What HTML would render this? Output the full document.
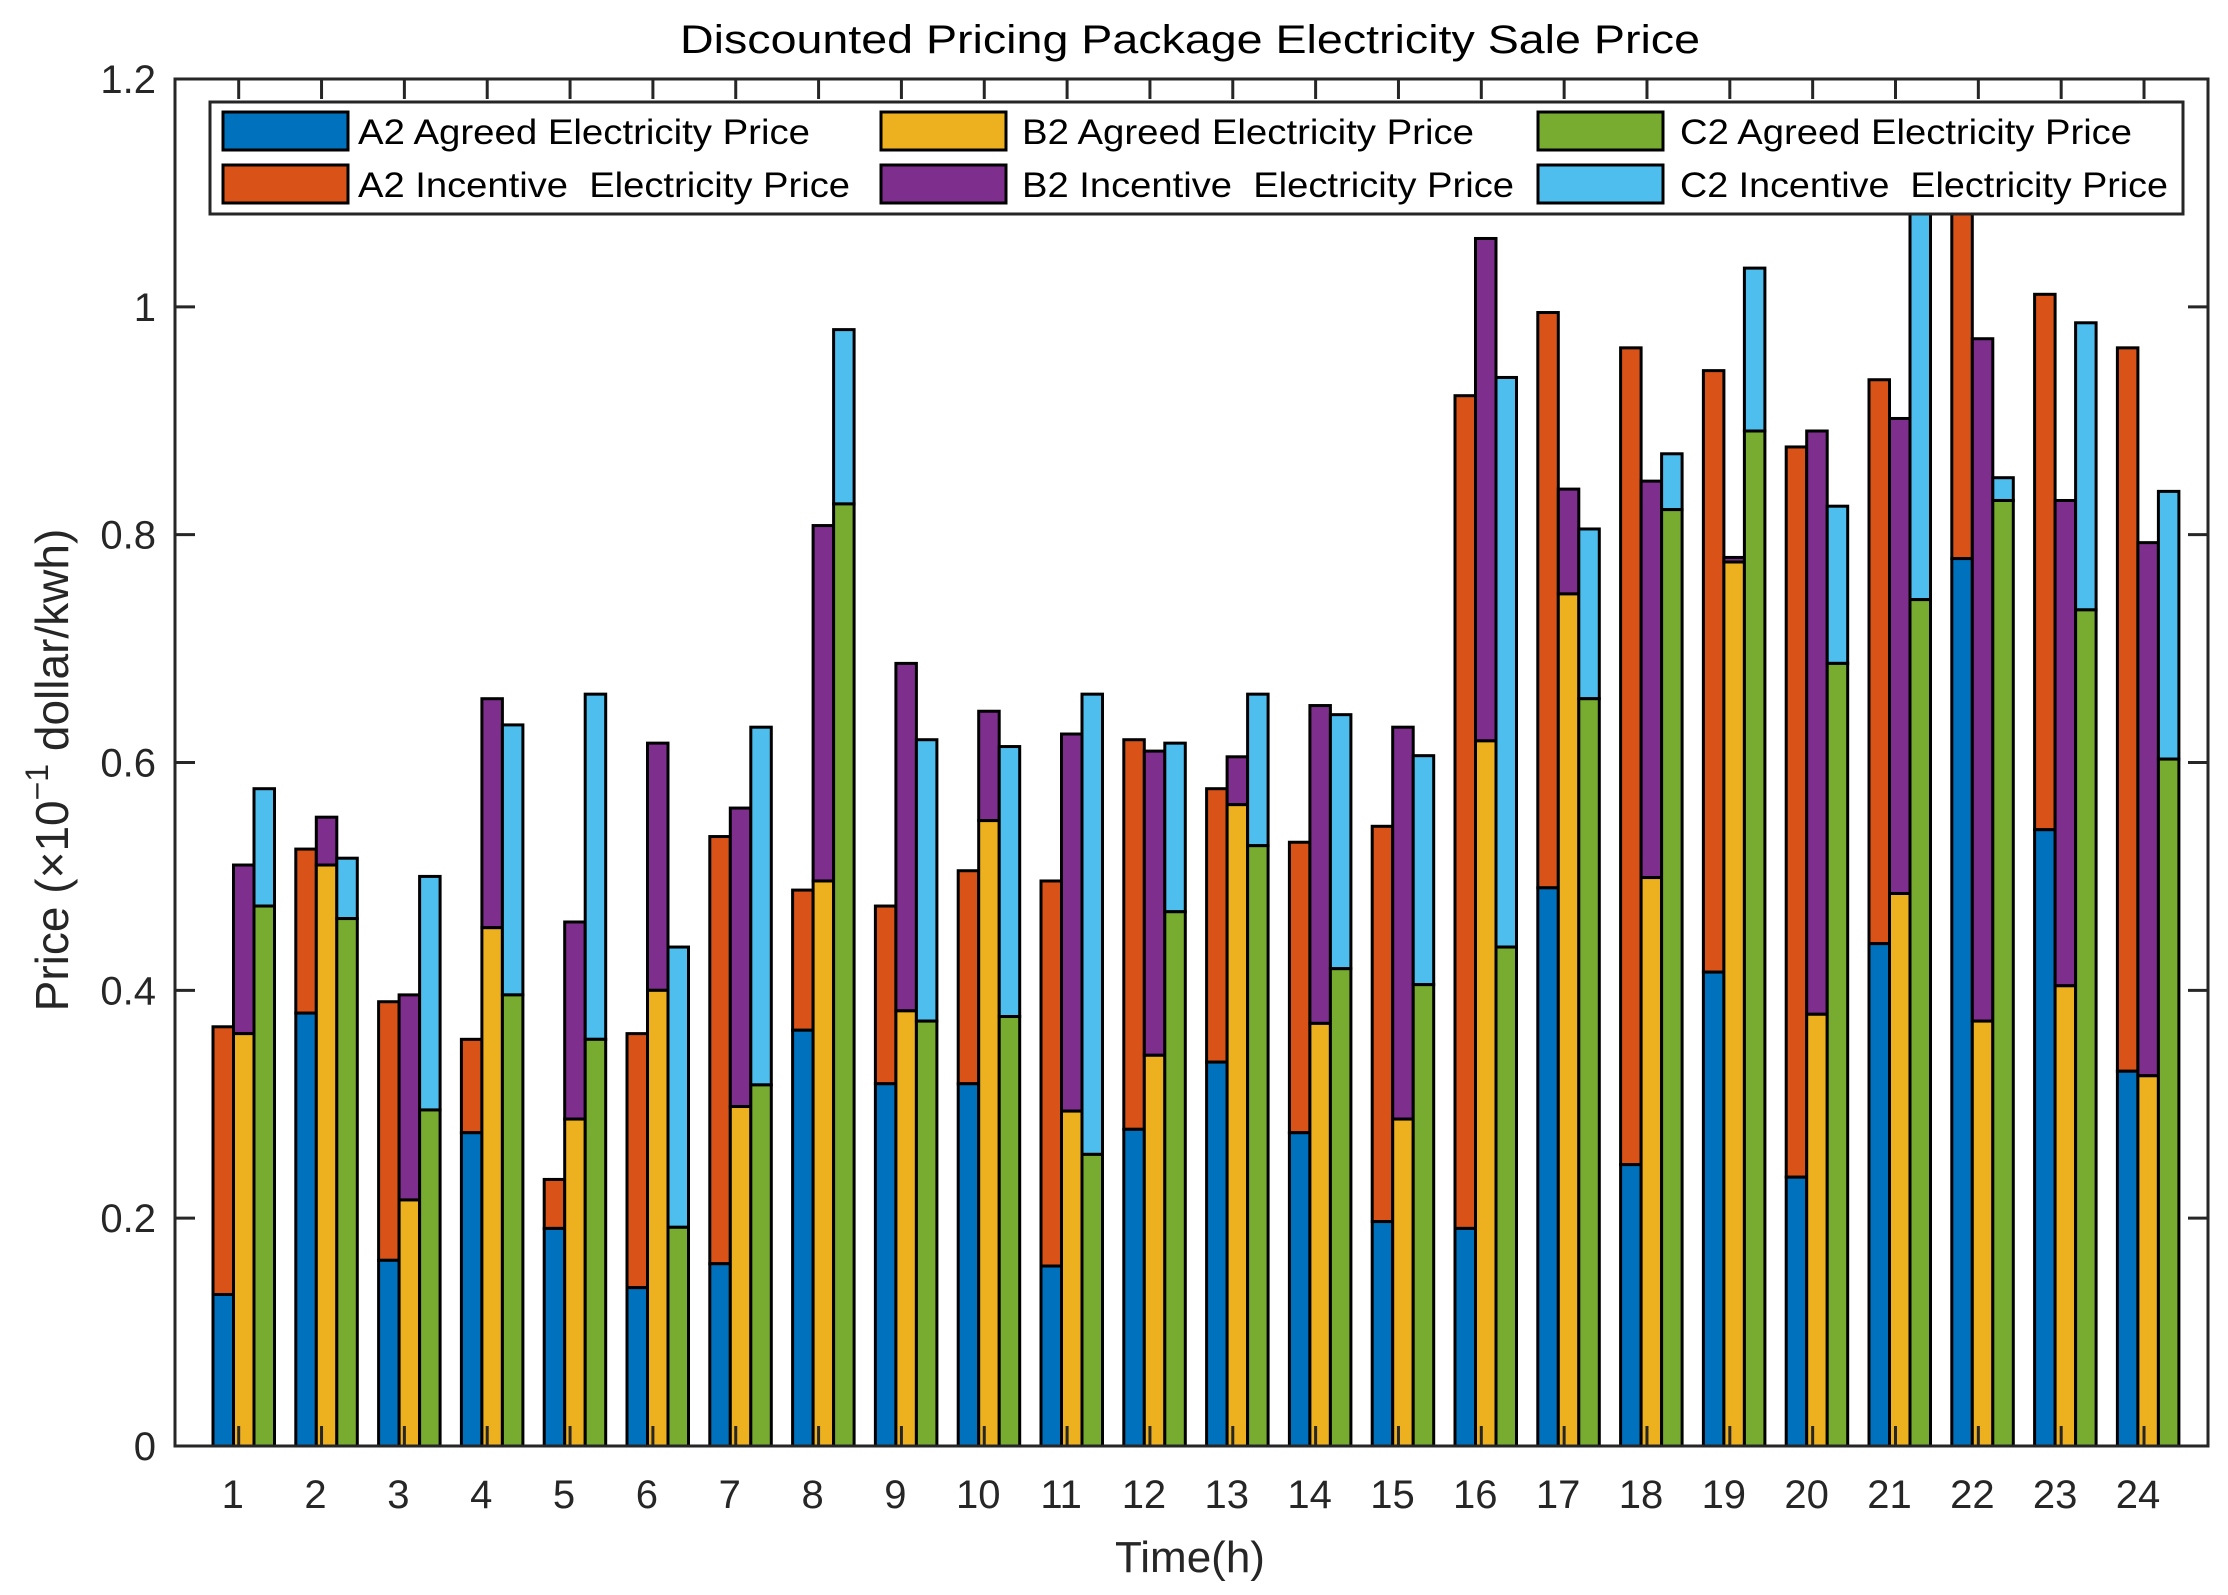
<!DOCTYPE html>
<html><head><meta charset="utf-8"><style>
html,body{margin:0;padding:0;background:#fff;}
svg{display:block;font-family:"Liberation Sans",Arial,sans-serif;}
</style></head><body>
<svg id="s" width="2228" height="1595" xmlns="http://www.w3.org/2000/svg"></svg>
<script>
const d=[
[0.133,0.368,0.362,0.510,0.474,0.577],
[0.380,0.524,0.510,0.552,0.463,0.516],
[0.163,0.390,0.216,0.396,0.295,0.500],
[0.275,0.357,0.455,0.656,0.396,0.633],
[0.191,0.234,0.287,0.460,0.357,0.660],
[0.139,0.362,0.400,0.617,0.192,0.438],
[0.160,0.535,0.298,0.560,0.317,0.631],
[0.365,0.488,0.496,0.808,0.827,0.980],
[0.318,0.474,0.382,0.687,0.373,0.620],
[0.318,0.505,0.549,0.645,0.377,0.614],
[0.158,0.496,0.294,0.625,0.256,0.660],
[0.278,0.620,0.343,0.610,0.469,0.617],
[0.337,0.577,0.563,0.605,0.527,0.660],
[0.275,0.530,0.371,0.650,0.419,0.642],
[0.197,0.544,0.287,0.631,0.405,0.606],
[0.191,0.922,0.619,1.060,0.438,0.938],
[0.490,0.995,0.748,0.840,0.656,0.805],
[0.247,0.964,0.499,0.847,0.822,0.871],
[0.416,0.944,0.776,0.780,0.891,1.034],
[0.236,0.877,0.379,0.891,0.687,0.825],
[0.441,0.936,0.485,0.902,0.743,1.12],
[0.779,1.12,0.373,0.972,0.830,0.850],
[0.541,1.011,0.404,0.830,0.734,0.986],
[0.329,0.964,0.325,0.793,0.603,0.838]];
const X0=175,X1=2208,Y0=79,Y1=1446,K=(Y1-Y0)/1.2;
const y=v=>Y1-v*K;
const col=[["#0072BD","#D95319"],["#EDB120","#7E2F8E"],["#77AC30","#4DBEEE"]];
let h='';
const bw=20.5,sp=82.8;
d.forEach((r,i)=>{
  const L=213+sp*i;
  for(let k=0;k<3;k++){
    const x=L+k*bw, a=r[2*k], t=r[2*k+1];
    h+=`<rect x="${x}" y="${y(t)}" width="${bw}" height="${y(a)-y(t)}" fill="${col[k][1]}" stroke="#000" stroke-width="3"/>`;
    h+=`<rect x="${x}" y="${y(a)}" width="${bw}" height="${Y1-y(a)}" fill="${col[k][0]}" stroke="#000" stroke-width="3"/>`;
  }
});
for(let i=0;i<24;i++){
  const tx=238.7+i*82.84;
  h+=`<line x1="${tx}" y1="${Y1}" x2="${tx}" y2="${Y1-20}" stroke="#262626" stroke-width="3"/>`;
  h+=`<line x1="${tx}" y1="${Y0}" x2="${tx}" y2="${Y0+20}" stroke="#262626" stroke-width="3"/>`;
  h+=`<text x="${tx-6}" y="1508" font-size="40" fill="#262626" text-anchor="middle">${i+1}</text>`;
}
const yl=["0","0.2","0.4","0.6","0.8","1","1.2"];
for(let j=0;j<=6;j++){
  const ty=y(j*0.2);
  h+=`<line x1="${X0}" y1="${ty}" x2="${X0+20}" y2="${ty}" stroke="#262626" stroke-width="3"/>`;
  h+=`<line x1="${X1}" y1="${ty}" x2="${X1-20}" y2="${ty}" stroke="#262626" stroke-width="3"/>`;
  h+=`<text x="156" y="${ty+14}" font-size="40" fill="#262626" text-anchor="end">${yl[j]}</text>`;
}
h+=`<rect x="${X0}" y="${Y0}" width="${X1-X0}" height="${Y1-Y0}" fill="none" stroke="#262626" stroke-width="3"/>`;
h+=`<rect x="210" y="102" width="1973" height="112" fill="#fff" stroke="#262626" stroke-width="3"/>`;
const lx=[223,881,1538], tx=[358,1022,1680];
const names=[["A2 Agreed Electricity Price","A2 Incentive  Electricity Price"],["B2 Agreed Electricity Price","B2 Incentive  Electricity Price"],["C2 Agreed Electricity Price","C2 Incentive  Electricity Price"]];
const tl=[[452,492],[452,492],[452,488]];
for(let k=0;k<3;k++){
  for(let r=0;r<2;r++){
    const sy=r?165:112;
    h+=`<rect x="${lx[k]}" y="${sy}" width="125" height="38" fill="${col[k][r]}" stroke="#000" stroke-width="3"/>`;
    h+=`<text x="${tx[k]}" y="${sy+32}" font-size="35" fill="#000" textLength="${tl[k][r]}" lengthAdjust="spacingAndGlyphs" xml:space="preserve">${names[k][r]}</text>`;
  }
}
h+=`<text x="1190" y="53" font-size="40" fill="#000" text-anchor="middle" textLength="1020" lengthAdjust="spacingAndGlyphs">Discounted Pricing Package Electricity Sale Price</text>`;
h+=`<text x="1190" y="1572" font-size="44" fill="#262626" text-anchor="middle">Time(h)</text>`;
h+=`<text transform="translate(68,770) rotate(-90)" font-size="46" fill="#262626" text-anchor="middle">Price (×10<tspan dy="-20" font-size="32">−1</tspan><tspan dy="20"> dollar/kwh)</tspan></text>`;
document.getElementById('s').innerHTML=h;
</script>
</body></html>
